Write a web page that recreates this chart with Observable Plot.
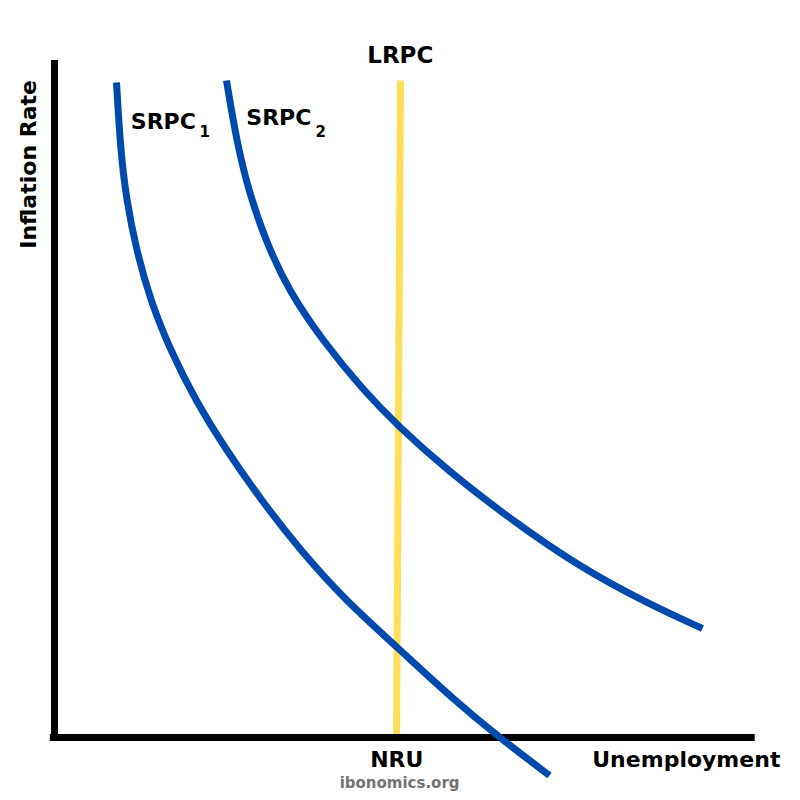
<!DOCTYPE html>
<html><head><meta charset="utf-8">
<script src="https://cdn.jsdelivr.net/npm/d3@7"></script>
<script src="https://cdn.jsdelivr.net/npm/@observablehq/plot@0.6"></script>
<style>body{margin:0;background:#fff}</style>
</head><body><div id="chart"></div>
<script>
// Schematic data (arbitrary units: unemployment 0-100, inflation 0-100)
const srpc1Unemployment = [8.86, 9.43, 10.29, 11.71, 13.71, 16.57, 20.14, 24.57, 29.57, 35.14, 41.57, 49.0, 57.14, 63.57, 70.71];
const srpc1Inflation    = [97.04, 86.96, 79.56, 72.15, 64.74, 57.33, 49.93, 42.52, 35.11, 27.70, 20.30, 13.33, 5.48, 0, -5.63];
const srpc2Unemployment = [24.57, 26.0, 27.71, 30.14, 33.43, 38.29, 44.14, 49.0, 56.14, 65.57, 75.14, 84.71, 92.57];
const srpc2Inflation    = [97.33, 88.44, 81.04, 73.63, 66.22, 58.81, 51.41, 46.22, 39.56, 32.0, 25.19, 19.85, 16.15];
const lrpcUnemployment  = [48.86, 49.43];
const lrpcInflation     = [0, 97.33];

// Axis extents
const xAxisExtent = [-0.6, 100.1];
const yAxisExtent = [-0.6, 100.3];

// Labels
const curveLabels   = ["SRPC", "SRPC"];
const curveLabelX   = [10.9, 27.4];
const curveLabelY   = [90.1, 90.8];
const subLabels     = ["1", "2"];
const subLabelX     = [20.7, 37.3];
const subLabelY     = [88.9, 88.9];
const lrpcLabel     = ["LRPC"];
const lrpcLabelX    = [49.4];
const lrpcLabelY    = [99.9];
const nruLabel      = ["NRU"];
const nruLabelX     = [48.9];
const nruLabelY     = [-4.3];
const xTitle        = ["Unemployment"];
const xTitleX       = [103.7];
const xTitleY       = [-4.3];
const yTitle        = ["Inflation Rate"];
const yTitleX       = [-2.6];
const yTitleY       = [84.9];
const credit        = ["ibonomics.org"];
const creditX       = [49.3];
const creditY       = [-7.5];

const BLUE = "#004AAD", YELLOW = "#FFDE59";
const FONT = "DejaVu Sans";

const idx = a => a.map((_, i) => i);

const chart = Plot.plot({
  width: 800, height: 800,
  marginLeft: 54, marginRight: 46, marginTop: 62, marginBottom: 63,
  x: {domain: [0, 100], axis: null},
  y: {domain: [0, 100], axis: null},
  style: {background: "#fff", fontFamily: FONT, overflow: "visible"},
  marks: [
    Plot.line(idx(lrpcUnemployment), {x: i => lrpcUnemployment[i], y: i => lrpcInflation[i], stroke: YELLOW, strokeWidth: 7, strokeLinecap: "butt"}),
    Plot.ruleX([0], {y1: yAxisExtent[0], y2: yAxisExtent[1], stroke: "#000", strokeWidth: 7}),
    Plot.ruleY([0], {x1: xAxisExtent[0], x2: xAxisExtent[1], stroke: "#000", strokeWidth: 7}),
    Plot.line(idx(srpc1Unemployment), {x: i => srpc1Unemployment[i], y: i => srpc1Inflation[i], stroke: BLUE, strokeWidth: 7, curve: "basis", strokeLinecap: "butt"}),
    Plot.line(idx(srpc2Unemployment), {x: i => srpc2Unemployment[i], y: i => srpc2Inflation[i], stroke: BLUE, strokeWidth: 7, curve: "basis", strokeLinecap: "butt"}),
    Plot.text(idx(curveLabels), {x: i => curveLabelX[i], y: i => curveLabelY[i], text: i => curveLabels[i], textAnchor: "start", lineAnchor: "bottom", fontSize: 22, fontWeight: "bold", fill: "#000"}),
    Plot.text(idx(subLabels), {x: i => subLabelX[i], y: i => subLabelY[i], text: i => subLabels[i], textAnchor: "start", lineAnchor: "bottom", fontSize: 15, fontWeight: "bold", fill: "#000"}),
    Plot.text(lrpcLabel, {x: lrpcLabelX, y: lrpcLabelY, text: d => d, textAnchor: "middle", lineAnchor: "bottom", fontSize: 23, fontWeight: "bold", fill: "#000"}),
    Plot.text(nruLabel, {x: nruLabelX, y: nruLabelY, text: d => d, textAnchor: "middle", lineAnchor: "bottom", fontSize: 22, fontWeight: "bold", fill: "#000"}),
    Plot.text(xTitle, {x: xTitleX, y: xTitleY, text: d => d, textAnchor: "end", lineAnchor: "bottom", fontSize: 22, fontWeight: "bold", fill: "#000"}),
    Plot.text(yTitle, {x: yTitleX, y: yTitleY, text: d => d, textAnchor: "middle", lineAnchor: "bottom", rotate: -90, fontSize: 22, fontWeight: "bold", fill: "#000"}),
    Plot.text(credit, {x: creditX, y: creditY, text: d => d, textAnchor: "middle", lineAnchor: "bottom", fontSize: 15, fontWeight: "bold", fill: "#737373"})
  ]
});
document.getElementById("chart").appendChild(chart);
</script>
</body></html>
